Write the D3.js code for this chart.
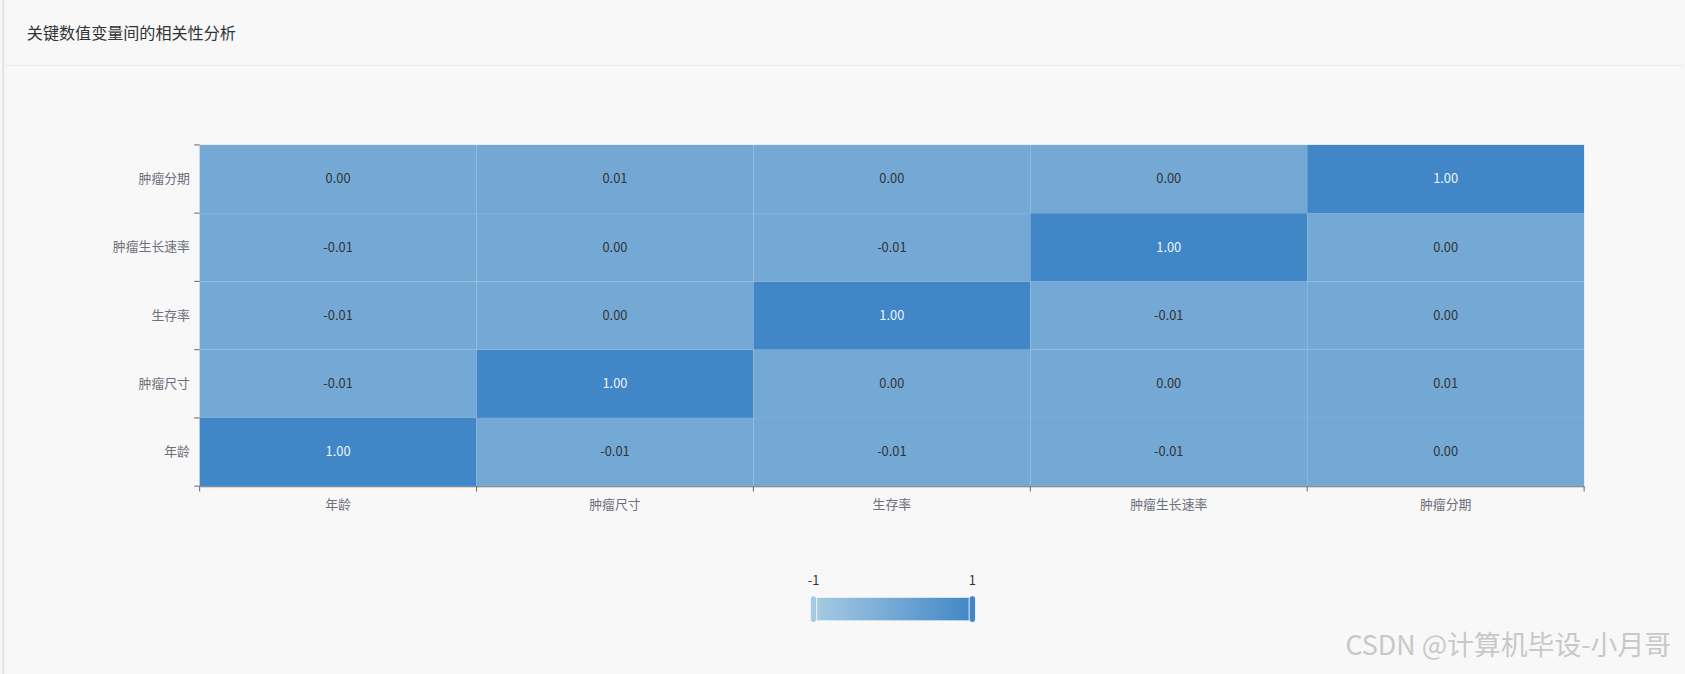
<!DOCTYPE html>
<html><head><meta charset="utf-8">
<script src="https://cdn.jsdelivr.net/npm/d3@7"></script>
<style>body{margin:0;background:#f8f8f8;font-family:"Noto Sans CJK SC","Noto Sans",sans-serif;}</style>
</head><body><div id="body"></div>
<script>
var vars = ["年龄", "肿瘤尺寸", "生存率", "肿瘤生长速率", "肿瘤分期"];
// rows follow vars (y), columns follow vars (x)
var row0 = [1.00, -0.01, -0.01, -0.01, 0.00];
var row1 = [-0.01, 1.00, 0.00, 0.00, 0.01];
var row2 = [-0.01, 0.00, 1.00, -0.01, 0.00];
var row3 = [-0.01, 0.00, -0.01, 1.00, 0.00];
var row4 = [0.00, 0.01, 0.00, 0.00, 1.00];
var rows = [row0, row1, row2, row3, row4];
var legendTicks = ["-1", "1"];

var svg = d3.select("#body").append("svg")
  .attr("width", 1685).attr("height", 674)
  .attr("viewBox", "0 0 1568 628");

svg.append("rect").attr("width", 1568).attr("height", 628).attr("fill", "#f8f8f8");
svg.append("line").attr("x1", 2).attr("x2", 2).attr("y1", 0).attr("y2", 628).attr("stroke", "#e4e4e4").attr("stroke-width", 2);
svg.append("line").attr("x1", 2).attr("x2", 1568).attr("y1", 61).attr("y2", 61).attr("stroke", "#ececec");
svg.append("text").attr("x", 24).attr("y", 36).attr("font-size", 15).attr("fill", "#333").text("关键数值变量间的相关性分析");

var gLeft = 185, gRight = 1475, gTop = 135, gBottom = 453;
var x = d3.scaleBand().domain(vars).range([gLeft, gRight]);
var y = d3.scaleBand().domain(vars).range([gBottom, gTop]);
var color = d3.scaleLinear().domain([-1, 1]).range(["#a6cbe3", "#4186c6"]).interpolate(d3.interpolateRgb);

var cells = [];
rows.forEach(function(r, i){ r.forEach(function(v, j){ cells.push({r: vars[i], c: vars[j], v: v}); }); });

svg.selectAll("rect.cell").data(cells).enter().append("rect")
  .attr("class", "cell")
  .attr("x", function(d){ return x(d.c); })
  .attr("y", function(d){ return y(d.r); })
  .attr("width", x.bandwidth()).attr("height", y.bandwidth())
  .attr("fill", function(d){ return color(d.v); });

svg.selectAll("text.val").data(cells).enter().append("text")
  .attr("x", function(d){ return x(d.c) + x.bandwidth() / 2; })
  .attr("y", function(d){ return y(d.r) + y.bandwidth() / 2 + 4; })
  .attr("text-anchor", "middle").attr("font-size", 12)
  .attr("fill", function(d){ return d.v > 0.5 ? "#eef4fa" : "#333"; })
  .text(function(d){ return d.v.toFixed(2); });

var xa = svg.append("g").attr("transform", "translate(0," + gBottom + ")")
  .call(d3.axisBottom(x).tickSize(5).tickSizeOuter(0));
xa.selectAll(".tick line").remove();
vars.concat([null]).forEach(function(d, i){
  var px = gLeft + i * x.bandwidth();
  xa.append("line").attr("x1", px).attr("x2", px).attr("y1", 0).attr("y2", 5).attr("stroke", "#6e7079");
});
var ya = svg.append("g").attr("transform", "translate(" + gLeft + ",0)")
  .call(d3.axisLeft(y).tickSize(0).tickPadding(9));
ya.select(".domain").remove();
vars.concat([null]).forEach(function(d, i){
  var py = gBottom - i * y.bandwidth();
  ya.append("line").attr("x1", -5).attr("x2", 0).attr("y1", py).attr("y2", py).attr("stroke", "#6e7079");
});
[xa, ya].forEach(function(a){
  a.selectAll("text").attr("fill", "#6e7079").attr("font-size", 12).attr("font-family", "Noto Sans CJK SC");
  a.select(".domain").attr("stroke", "#6e7079");
});
xa.selectAll(".tick text").attr("dy", "1.1em");

// visual map legend
var defs = svg.append("defs");
var grad = defs.append("linearGradient").attr("id", "lg");
grad.append("stop").attr("offset", "0%").attr("stop-color", color(-1));
grad.append("stop").attr("offset", "100%").attr("stop-color", color(1));
var lx = d3.scaleLinear().domain([-1, 1]).range([757, 905]);
svg.append("rect").attr("x", lx(-1)).attr("y", 557).attr("width", lx(1) - lx(-1)).attr("height", 21).attr("fill", "url(#lg)");
[-1, 1].forEach(function(v, i){
  svg.append("rect").attr("x", lx(v) - 3).attr("y", 555).attr("width", 6).attr("height", 25).attr("rx", 3)
    .attr("fill", color(v)).attr("stroke", "#fff").attr("stroke-width", 0.8);
  svg.append("text").attr("x", lx(v)).attr("y", 545).attr("text-anchor", "middle")
    .attr("font-size", 12).attr("fill", "#333").text(legendTicks[i]);
});

svg.append("text").attr("x", 1556).attr("y", 610).attr("text-anchor", "end")
  .attr("font-size", 25).attr("fill", "#c8c8c8").text("CSDN @计算机毕设-小月哥");
</script></body></html>
